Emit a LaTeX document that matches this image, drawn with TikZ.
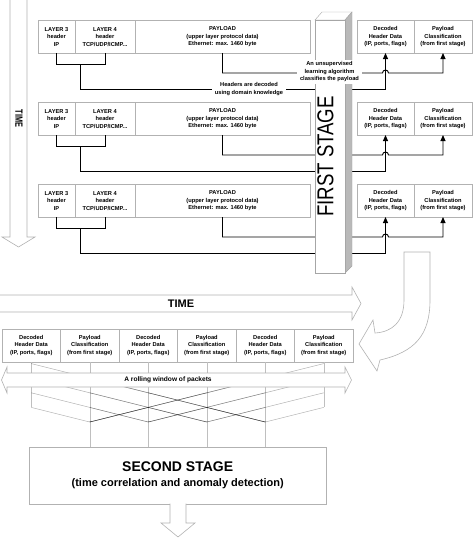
\documentclass[tikz,border=0pt]{standalone}
\usepackage{fontspec}
\setmainfont{Liberation Sans}
\usepackage{graphicx}
\usepackage{tikz}
\usetikzlibrary{arrows.meta,calc,positioning}

\tikzset{
	cell/.style={draw=gray!60, minimum height=32.5pt, inner sep=0pt, outer sep=0pt, align=center},
	wire/.style={line width=0.9pt},
	note/.style={fill=white, align=center, inner xsep=3pt, inner ysep=1.5pt},
	hollow/.style={draw=gray!60, fill=white, line width=0.6pt},
	mesh/.style={draw=black, opacity=0.3, line width=0.5pt},
	stem/.style={draw=gray!50, line width=0.5pt}
}

\begin{document}
\begin{tikzpicture}[x=1pt, y=-1pt, >={Triangle[length=6pt,width=5pt]}, font=\bfseries\fontsize{5.7}{7.5}\selectfont]
	\useasboundingbox (0,0) rectangle (474,539);
	% Zeit
		\draw[hollow] (10,0) -- (10,237) -- (2,237) -- (18.5,247) -- (35,237) -- (27,237) -- (27,0);
		\node (t1) at (19,118.5) [rotate=-90, font=\bfseries\fontsize{10.5}{11}\selectfont] {\scalebox{0.7}[1]{TIME}};
		\draw[hollow] (0,295) -- (352,295) -- (352,287) -- (361,303.5) -- (352,320) -- (352,312) -- (0,312);
		\node (t2) at (181,303.5) [font=\bfseries\fontsize{11}{12}\selectfont] {TIME};
	% Pakete
		\node (a1) at (38,20.5) [cell, minimum width=37pt, anchor=north west] {LAYER 3\\header\\IP};
		\node (b1) [cell, minimum width=60pt, right=0pt of a1] {LAYER 4\\header\\TCP/UDP/ICMP...};
		\node (c1) [cell, minimum width=175pt, right=0pt of b1] {PAYLOAD\\(upper layer protocol data)\\Ethernet: max. 1460 byte};
		\node (a2) at (38,102.5) [cell, minimum width=37pt, anchor=north west] {LAYER 3\\header\\IP};
		\node (b2) [cell, minimum width=60pt, right=0pt of a2] {LAYER 4\\header\\TCP/UDP/ICMP...};
		\node (c2) [cell, minimum width=175pt, right=0pt of b2] {PAYLOAD\\(upper layer protocol data)\\Ethernet: max. 1460 byte};
		\node (a3) at (38,184.5) [cell, minimum width=37pt, anchor=north west] {LAYER 3\\header\\IP};
		\node (b3) [cell, minimum width=60pt, right=0pt of a3] {LAYER 4\\header\\TCP/UDP/ICMP...};
		\node (c3) [cell, minimum width=175pt, right=0pt of b3] {PAYLOAD\\(upper layer protocol data)\\Ethernet: max. 1460 byte};
	% Ergebnisse
		\node (d1) at (357,20.5) [cell, minimum width=57pt, anchor=north west] {Decoded\\Header Data\\(IP, ports, flags)};
		\node (e1) [cell, minimum width=58pt, right=0pt of d1] {Payload\\Classification\\(from first stage)};
		\node (d2) at (357,102.5) [cell, minimum width=57pt, anchor=north west] {Decoded\\Header Data\\(IP, ports, flags)};
		\node (e2) [cell, minimum width=58pt, right=0pt of d2] {Payload\\Classification\\(from first stage)};
		\node (d3) at (357,184.5) [cell, minimum width=57pt, anchor=north west] {Decoded\\Header Data\\(IP, ports, flags)};
		\node (e3) [cell, minimum width=58pt, right=0pt of d3] {Payload\\Classification\\(from first stage)};
	% Kanten
		\draw[wire] (a1.south) -- ++(0,11) -| (b1.south);
		\draw[wire,->] ($(a1.south)!.5!(b1.south)+(0,11)$) -- ++(0,25) -| (d1.south);
		\draw[wire,->] (c1.south) -- ++(0,20) coordinate (q1) -- ([xshift=-3pt]d1.south |- q1) arc[start angle=180, end angle=360, radius=3] -| (e1.south);
		\draw[wire] (a2.south) -- ++(0,11) -| (b2.south);
		\draw[wire,->] ($(a2.south)!.5!(b2.south)+(0,11)$) -- ++(0,25) -| (d2.south);
		\draw[wire,->] (c2.south) -- ++(0,20) coordinate (q2) -- ([xshift=-3pt]d2.south |- q2) arc[start angle=180, end angle=360, radius=3] -| (e2.south);
		\draw[wire] (a3.south) -- ++(0,11) -| (b3.south);
		\draw[wire,->] ($(a3.south)!.5!(b3.south)+(0,11)$) -- ++(0,25) -| (d3.south);
		\draw[wire,->] (c3.south) -- ++(0,20) coordinate (q3) -- ([xshift=-3pt]d3.south |- q3) arc[start angle=180, end angle=360, radius=3] -| (e3.south);
	% Erste Stufe
		\draw[draw=gray!70, fill=white] (315,20) -- (322,12) -- (352,12) -- (345,20) -- cycle;
		\draw[draw=gray!70, fill=gray!55] (345,20) -- (352,12) -- (352,266) -- (345,273) -- cycle;
		\node (fs) at (315,20) [draw=gray!70, fill=white, minimum width=30pt, minimum height=253pt, inner sep=0pt, anchor=north west] {};
		\node (fst) at (325.5,156.5) [rotate=90, font=\mdseries\fontsize{23}{23}\selectfont] {\scalebox{0.81}[1]{FIRST STAGE}};
		\node (n1) at (249,89) [note] {Headers are decoded\\using domain knowledge};
		\node (n2) at (329.5,72) [note] {An unsupervised\\learning algorithm\\classifies the payload};
	% Bogen
		\draw[hollow] (404,252) -- (404,300) .. controls (404,322) and (392,332) .. (375,333) -- (373,320) -- (359,344) -- (377,371) -- (380,360) .. controls (415,352) and (430,335) .. (430,300) -- (430,252) -- cycle;
	% Fenster
		\node (f1) at (2,329) [cell, minimum width=58.5pt, minimum height=33pt, anchor=north west] {Decoded\\Header Data\\(IP, ports, flags)};
		\node (f2) [cell, minimum width=58.5pt, minimum height=33pt, right=0pt of f1] {Payload\\Classification\\(from first stage)};
		\node (f3) [cell, minimum width=58.5pt, minimum height=33pt, right=0pt of f2] {Decoded\\Header Data\\(IP, ports, flags)};
		\node (f4) [cell, minimum width=58.5pt, minimum height=33pt, right=0pt of f3] {Payload\\Classification\\(from first stage)};
		\node (f5) [cell, minimum width=58.5pt, minimum height=33pt, right=0pt of f4] {Decoded\\Header Data\\(IP, ports, flags)};
		\node (f6) [cell, minimum width=58.5pt, minimum height=33pt, right=0pt of f5] {Payload\\Classification\\(from first stage)};
		\node (s2) at (29,447) [draw=gray!60, minimum width=297pt, minimum height=57pt, inner sep=0pt, anchor=north west, align=center, font=\bfseries\fontsize{11}{15}\selectfont] {{\fontsize{14}{15}\selectfont SECOND STAGE}\\(time correlation and anomaly detection)};
		\coordinate (k1) at (f1.south |- 0,422);
		\coordinate (k2) at (f2.south |- 0,422);
		\coordinate (k3) at (f3.south |- 0,422);
		\coordinate (k4) at (f4.south |- 0,422);
		\coordinate (k5) at (f5.south |- 0,422);
		\coordinate (k6) at (f6.south |- 0,422);
		\draw[stem] (f1.south) -- ($(k1)+(0,-14.6)$);
		\draw[stem] (f6.south) -- ($(k6)+(0,-14.6)$);
		\draw[stem] (f2.south) -- (f2.south |- s2.north);
		\draw[stem] (f3.south) -- (f3.south |- s2.north);
		\draw[stem] (f4.south) -- (f4.south |- s2.north);
		\draw[stem] (f5.south) -- (f5.south |- s2.north);
		\draw[mesh] ($(k1)+(0,-14.6)$) -- (k2); \draw[mesh] ($(k3)+(0,-14.6)$) -- (k2); \draw[mesh] ($(k4)+(0,-29.2)$) -- (k2);
		\draw[mesh] ($(k5)+(0,-43.8)$) -- (k2); \draw[mesh] ($(k6)+(0,-58.4)$) -- (k2);
		\draw[mesh] ($(k1)+(0,-29.2)$) -- (k3); \draw[mesh] ($(k2)+(0,-14.6)$) -- (k3); \draw[mesh] ($(k4)+(0,-14.6)$) -- (k3);
		\draw[mesh] ($(k5)+(0,-29.2)$) -- (k3); \draw[mesh] ($(k6)+(0,-43.8)$) -- (k3);
		\draw[mesh] ($(k1)+(0,-43.8)$) -- (k4); \draw[mesh] ($(k2)+(0,-29.2)$) -- (k4); \draw[mesh] ($(k3)+(0,-14.6)$) -- (k4);
		\draw[mesh] ($(k5)+(0,-14.6)$) -- (k4); \draw[mesh] ($(k6)+(0,-29.2)$) -- (k4);
		\draw[mesh] ($(k1)+(0,-58.4)$) -- (k5); \draw[mesh] ($(k2)+(0,-43.8)$) -- (k5); \draw[mesh] ($(k3)+(0,-29.2)$) -- (k5);
		\draw[mesh] ($(k4)+(0,-14.6)$) -- (k5); \draw[mesh] ($(k6)+(0,-14.6)$) -- (k5);
		\draw[hollow] (7,373) -- (345,373) -- (345,367) -- (351.5,380) -- (345,393) -- (345,387) -- (7,387) -- (7,393) -- (1.5,380) -- (7,367) -- cycle;
		\node (rw) at (168,380) [font=\bfseries\fontsize{6.6}{8}\selectfont] {A rolling window of packets};
		\draw[hollow] (170,503.5) -- (170,523) -- (161,523) -- (178,537) -- (195,523) -- (186,523) -- (186,503.5);
	\end{tikzpicture}
\end{document}
